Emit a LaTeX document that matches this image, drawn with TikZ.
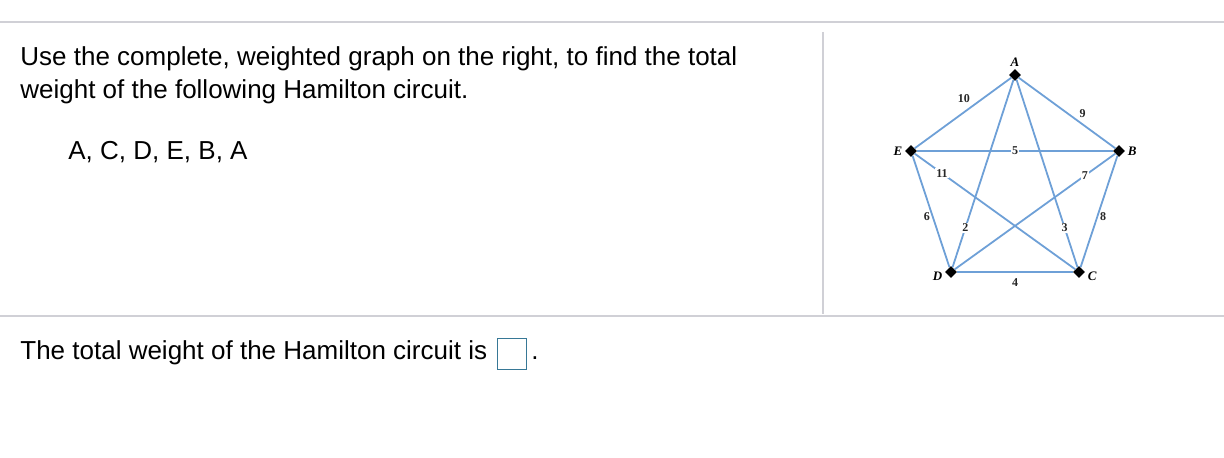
\documentclass[tikz,border=0pt]{standalone}
\usepackage{fontspec}
\setmainfont{Liberation Sans}
\newfontfamily\graphfont{Liberation Serif}
\usetikzlibrary{shapes.geometric}
\definecolor{rulegray}{RGB}{208,208,214}
\definecolor{edgeblue}{RGB}{110,160,215}
\definecolor{boxblue}{RGB}{55,120,150}
\tikzset{
  vertex/.style={diamond,fill=black,inner sep=0pt,minimum size=6pt},
  vlabel/.style={font=\graphfont\itshape\bfseries\fontsize{6.5}{7}\selectfont,inner sep=1pt,text=black},
  wlabel/.style={font=\graphfont\bfseries\fontsize{6}{7}\selectfont,inner sep=1pt,text=black!85},
  cutlabel/.style={wlabel,fill=white,inner sep=0.6pt},
  edge/.style={edgeblue,line width=0.9pt},
  qtext/.style={anchor=base west,inner sep=0pt,font=\fontsize{13}{15}\selectfont}
}

\begin{document}
\begin{tikzpicture}[x=0.5pt,y=-0.5pt]
\useasboundingbox (0,0) rectangle (1224,458);
% frame lines
\draw[rulegray,line width=0.6pt] (0,22) -- (1224,22);
\draw[rulegray,line width=0.6pt] (823,32) -- (823,314);
\draw[rulegray,line width=0.6pt] (0,316) -- (1224,316);
% question
\node[qtext] (q1) at (20,66) {Use the complete, weighted graph on the right, to find the total};
\node[qtext] (q2) at (20,99) {weight of the following Hamilton circuit.};
\node[qtext] (circ) at (68,160) {A, C, D, E, B, A};
\node[qtext] (ans) at (20,360) {The total weight of the Hamilton circuit is};
\node[draw=boxblue,line width=0.8pt,minimum width=14.5pt,minimum height=15.5pt,inner sep=0pt] (box) at (512,354) {};
\node[qtext] (dot) at (531,360) {.};
% vertices
\node[vertex] (A) at (1015,75) {};
\node[vertex] (B) at (1119,151) {};
\node[vertex] (C) at (1079,272) {};
\node[vertex] (D) at (951,272) {};
\node[vertex] (E) at (911,151) {};
\node[vlabel,above] at (A.north) {A};
\node[vlabel,right] at (B.east) {B};
\node[vlabel,right,yshift=-2pt] at (C.east) {C};
\node[vlabel,left,yshift=-2pt] at (D.west) {D};
\node[vlabel,left] at (E.west) {E};
% outer edges
\draw[edge] (A) -- node[wlabel,above left,pos=0.4] {10} (E);
\draw[edge] (A) -- node[wlabel,above right,pos=0.6] {9} (B);
\draw[edge] (B) -- node[wlabel,right,pos=0.55] {8} (C);
\draw[edge] (D) -- node[wlabel,below=2pt] {4} (C);
\draw[edge] (E) -- node[wlabel,left,pos=0.55] {6} (D);
% inner edges
\draw[edge] (E) -- node[cutlabel] {5} (B);
\draw[edge] (E) -- node[cutlabel,pos=0.17] {11} (C);
\draw[edge] (D) -- node[cutlabel,pos=0.81] {7} (B);
\draw[edge] (A) -- node[cutlabel,pos=0.79] {2} (D);
\draw[edge] (A) -- node[cutlabel,pos=0.79] {3} (C);
\end{tikzpicture}
\end{document}
